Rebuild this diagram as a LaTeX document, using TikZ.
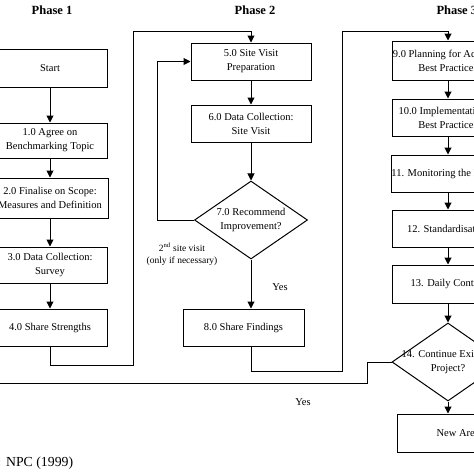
\documentclass[tikz,border=0pt]{standalone}
\usepackage{fontspec}
\setmainfont{Liberation Serif}
\usetikzlibrary{arrows.meta,shapes.geometric}
\begin{document}
\begin{tikzpicture}[x=1pt, y=-1pt, font=\fontsize{10.5}{14}\selectfont, line width=1pt, >={Triangle[length=7pt,width=7pt]},
 box/.style={draw, align=center, inner sep=0pt, minimum width=#1},
 dec/.style={draw, diamond, inner sep=0pt, minimum width=#1, minimum height=78},
 phase/.style={font=\fontsize{12.5}{15}\selectfont\bfseries, inner sep=0pt}]
 \useasboundingbox (0,0) rectangle (474,474);
 \clip (0,0) rectangle (474,474);
 \node[phase] (ph1) at (52,10) {Phase 1};
 \node[phase] (ph2) at (255,10) {Phase 2};
 \node[phase, anchor=west] (ph3) at (436,10) {Phase 3};
 \node[box=114, minimum height=38] (start) at (50,68) {Start};
 \node[box=114, minimum height=35] (agree) at (50,140.5) {1.0 Agree on\\Benchmarking Topic};
 \node[box=116, minimum height=40] (scope) at (50,198) {2.0 Finalise on Scope:\\Measures and Definition};
 \node[box=114, minimum height=36] (survey) at (50,265) {3.0 Data Collection:\\Survey};
 \node[box=114, minimum height=37] (strength) at (50,327.5) {4.0 Share Strengths};
 \node[box=120, minimum height=37] (prep) at (251,61.5) {5.0 Site Visit\\Preparation};
 \node[box=120, minimum height=37] (visit) at (251,123.5) {6.0 Data Collection:\\Site Visit};
 \node[dec=113] (recom) at (251,220) {};
 \node[align=center] (recomtxt) at (recom) {7.0 Recommend\\Improvement?};
 \node[box=121, minimum height=37] (findings) at (243.5,327.5) {8.0 Share Findings};
 \node[box=112, minimum height=39] (plan) at (448,60.5) {9.0 Planning for Adopting\\Best Practices};
 \node[box=112, minimum height=37] (impl) at (448,117.5) {10.0 Implementation of\\Best Practices};
 \node[box=112, minimum height=37] (monitor) at (448,173.5) {11. Monitoring the Results};
 \node[box=112, minimum height=37] (std) at (448,228.5) {12. Standardisation};
 \node[box=112, minimum height=38] (daily) at (448,284) {13. Daily Control};
 \node[dec=112] (cont) at (448,362) {};
 \node[align=center] (conttxt) at (cont) {14. Continue Existing\\Project?};
 \node[box=121, minimum height=38] (newarea) at (458,433) {New Area};
 \foreach \a/\b in {start/agree, agree/scope, scope/survey, survey/strength, prep/visit, visit/recom, plan/impl, impl/monitor, monitor/std, std/daily, daily/cont}
  \draw[->] (\a) -- (\b);
 \draw[->] (recom.south) -- (recom.south |- findings.north);
 \draw[->] (cont.south) -- (cont.south |- newarea.north);
 \draw[->] (strength.south) |- (133,365) -- (133,31) -| (prep.north);
 \draw[->] (recom.west) -- (157,220) |- (prep.west);
 \draw[->] (recom.south |- findings.south) |- (342,371) -- (342,31) -| (plan.north);
 \draw (cont.west) -| (367,383) -- (-10,383);
 \node[align=center, font=\fontsize{9.5}{12}\selectfont] (second) at (182,254) {2\textsuperscript{nd} site visit\\(only if necessary)};
 \node (yes1) at (280,287) {Yes};
 \node (yes2) at (303,402) {Yes};
 \node[anchor=east, font=\fontsize{13.8}{16}\selectfont] (src) at (77,463) {\textbf{Source:} NPC (1999)};
\end{tikzpicture}
\end{document}
